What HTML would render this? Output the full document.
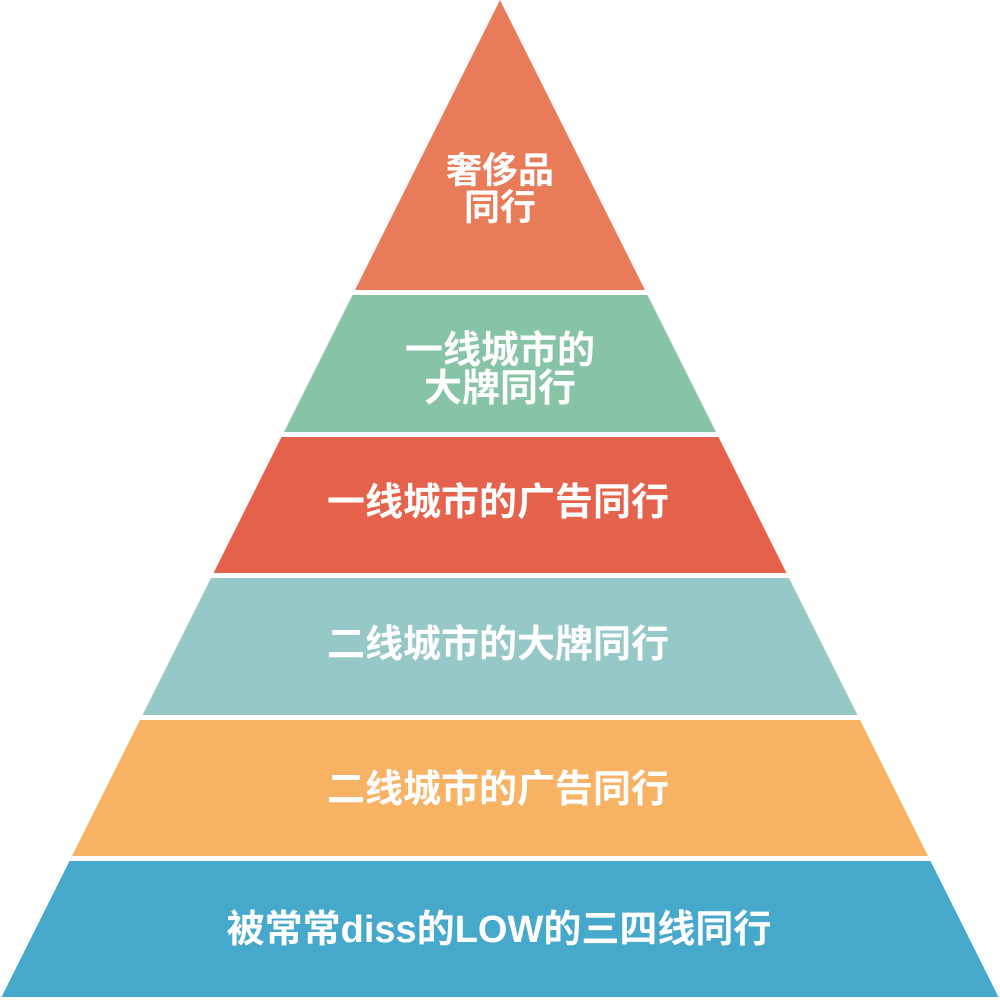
<!DOCTYPE html>
<html><head><meta charset="utf-8"><style>
html,body{margin:0;padding:0;background:#fff;}
svg{display:block}
text{font-family:"Liberation Sans","Noto Sans CJK SC",sans-serif;font-weight:bold;fill:#fff;font-size:38px;text-anchor:middle;dominant-baseline:central}
</style></head><body>
<svg width="1000" height="1000" viewBox="0 0 1000 1000">
<polygon points="500,0 645,290 355,290" fill="#E97C58"/>
<polygon points="352.5,295 647.5,295 716,432 284,432" fill="#87C4A5"/>
<polygon points="281.5,437 718.5,437 786.5,573 213.5,573" fill="#E5634C"/>
<polygon points="211,578 789,578 857.5,715 142.5,715" fill="#97C8C8"/>
<polygon points="140,720 860,720 928,856 72,856" fill="#F8B264"/>
<polygon points="69.5,861 930.5,861 998.5,997 1.5,997" fill="#46A8CB"/>
<text x="500" y="170" style="font-size:36px">奢侈品</text>
<text x="500" y="207" style="font-size:36px">同行</text>
<text x="500" y="351">一线城市的</text>
<text x="500" y="389">大牌同行</text>
<text x="498" y="503">一线城市的广告同行</text>
<text x="498" y="645">二线城市的大牌同行</text>
<text x="498" y="790">二线城市的广告同行</text>
<text x="499" y="930">被常常diss的LOW的三四线同行</text>
</svg>
</body></html>
